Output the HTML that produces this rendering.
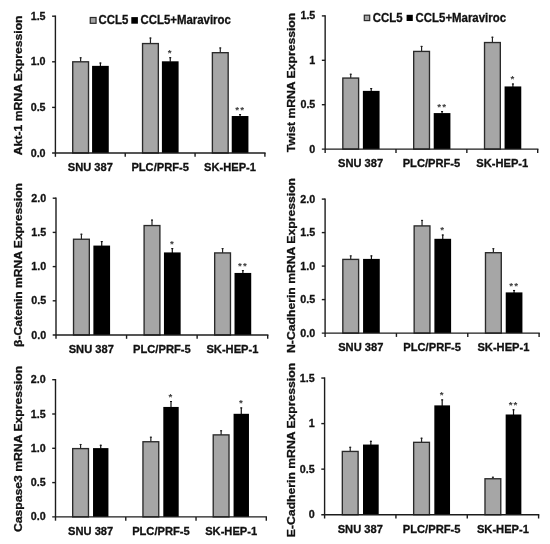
<!DOCTYPE html>
<html><head><meta charset="utf-8"><title>Figure</title>
<style>html,body{margin:0;padding:0;background:#fff}text{stroke:#111;stroke-width:.3px}text.st{stroke:none}svg{filter:blur(0.4px)}</style></head>
<body>
<svg width="550" height="544" viewBox="0 0 550 544" style="display:block">
<rect width="550" height="544" fill="#fff"/>
<g font-family='"Liberation Sans", sans-serif' font-weight="bold" fill="#111">
<line x1="80.62" x2="80.62" y1="61.80" y2="57.30" stroke="#222" stroke-width="1.2"/>
<line x1="79.62" x2="81.62" y1="57.80" y2="57.80" stroke="#222" stroke-width="1.1"/>
<line x1="100.42" x2="100.42" y1="66.36" y2="62.56" stroke="#111" stroke-width="1.2"/>
<line x1="99.42" x2="101.42" y1="63.06" y2="63.06" stroke="#111" stroke-width="1.1"/>
<rect x="72.72" y="61.80" width="15.80" height="91.20" fill="#a6a6a6" stroke="#2a2a2a" stroke-width="1.35"/>
<rect x="92.07" y="65.86" width="16.70" height="87.14" fill="#000"/>
<text transform="translate(90.32,170.50) scale(0.97,1)" font-size="11.5" text-anchor="middle">SNU 387</text>
<line x1="150.45" x2="150.45" y1="43.56" y2="37.56" stroke="#222" stroke-width="1.2"/>
<line x1="149.45" x2="151.45" y1="38.06" y2="38.06" stroke="#222" stroke-width="1.1"/>
<line x1="170.25" x2="170.25" y1="61.80" y2="57.20" stroke="#111" stroke-width="1.2"/>
<line x1="169.25" x2="171.25" y1="57.70" y2="57.70" stroke="#111" stroke-width="1.1"/>
<rect x="142.55" y="43.56" width="15.80" height="109.44" fill="#a6a6a6" stroke="#2a2a2a" stroke-width="1.35"/>
<rect x="161.90" y="61.30" width="16.70" height="91.70" fill="#000"/>
<text transform="translate(170.35,56.00) scale(1.0,1)" font-size="9.8" text-anchor="middle" class="st" fill="#3a3a3a" letter-spacing="1.15">*</text>
<text transform="translate(160.15,170.50) scale(0.97,1)" font-size="11.5" text-anchor="middle">PLC/PRF-5</text>
<line x1="220.28" x2="220.28" y1="52.68" y2="47.48" stroke="#222" stroke-width="1.2"/>
<line x1="219.28" x2="221.28" y1="47.98" y2="47.98" stroke="#222" stroke-width="1.1"/>
<line x1="240.08" x2="240.08" y1="116.52" y2="114.12" stroke="#111" stroke-width="1.2"/>
<line x1="239.08" x2="241.08" y1="114.62" y2="114.62" stroke="#111" stroke-width="1.1"/>
<rect x="212.38" y="52.68" width="15.80" height="100.32" fill="#a6a6a6" stroke="#2a2a2a" stroke-width="1.35"/>
<rect x="231.73" y="116.02" width="16.70" height="36.98" fill="#000"/>
<text transform="translate(240.18,112.92) scale(1.0,1)" font-size="9.8" text-anchor="middle" class="st" fill="#3a3a3a" letter-spacing="1.15">**</text>
<text transform="translate(229.98,170.50) scale(0.97,1)" font-size="11.5" text-anchor="middle">SK-HEP-1</text>
<line x1="55.40" x2="55.40" y1="15.50" y2="156.80" stroke="#1c1c1c" stroke-width="1.4"/>
<line x1="52.10" x2="265.60" y1="153.00" y2="153.00" stroke="#1c1c1c" stroke-width="1.4"/>
<text transform="translate(45.60,156.55) scale(0.95,1)" font-size="11.3" text-anchor="end">0.0</text>
<line x1="52.10" x2="55.40" y1="107.40" y2="107.40" stroke="#1c1c1c" stroke-width="1.4"/>
<text transform="translate(45.60,110.95) scale(0.95,1)" font-size="11.3" text-anchor="end">0.5</text>
<line x1="52.10" x2="55.40" y1="61.80" y2="61.80" stroke="#1c1c1c" stroke-width="1.4"/>
<text transform="translate(45.60,65.35) scale(0.95,1)" font-size="11.3" text-anchor="end">1.0</text>
<line x1="52.10" x2="55.40" y1="16.20" y2="16.20" stroke="#1c1c1c" stroke-width="1.4"/>
<text transform="translate(45.60,19.75) scale(0.95,1)" font-size="11.3" text-anchor="end">1.5</text>
<line x1="125.23" x2="125.23" y1="153.00" y2="156.80" stroke="#1c1c1c" stroke-width="1.4"/>
<line x1="195.07" x2="195.07" y1="153.00" y2="156.80" stroke="#1c1c1c" stroke-width="1.4"/>
<line x1="264.90" x2="264.90" y1="153.00" y2="156.80" stroke="#1c1c1c" stroke-width="1.4"/>
<text transform="translate(22.10,85.30) rotate(-90) scale(1.052,1)" font-size="11.6" text-anchor="middle">Akt-1 mRNA Expression</text>
<rect x="90.25" y="17.50" width="5.80" height="5.80" fill="#a6a6a6" stroke="#2a2a2a" stroke-width="1.2"/>
<text transform="translate(98.55,24.30) scale(0.952,1)" font-size="12" text-anchor="start">CCL5</text>
<rect x="131.30" y="17.10" width="6.60" height="6.60" fill="#000"/>
<text transform="translate(140.45,24.30) scale(0.952,1)" font-size="12" text-anchor="start">CCL5+Maraviroc</text>
<line x1="350.72" x2="350.72" y1="78.06" y2="73.76" stroke="#222" stroke-width="1.2"/>
<line x1="349.72" x2="351.72" y1="74.26" y2="74.26" stroke="#222" stroke-width="1.1"/>
<line x1="371.22" x2="371.22" y1="91.38" y2="88.08" stroke="#111" stroke-width="1.2"/>
<line x1="370.22" x2="372.22" y1="88.58" y2="88.58" stroke="#111" stroke-width="1.1"/>
<rect x="342.82" y="78.06" width="15.80" height="71.04" fill="#a6a6a6" stroke="#2a2a2a" stroke-width="1.35"/>
<rect x="362.87" y="90.88" width="16.70" height="58.22" fill="#000"/>
<text transform="translate(360.57,166.80) scale(0.97,1)" font-size="11.5" text-anchor="middle">SNU 387</text>
<line x1="421.57" x2="421.57" y1="51.42" y2="45.92" stroke="#222" stroke-width="1.2"/>
<line x1="420.57" x2="422.57" y1="46.42" y2="46.42" stroke="#222" stroke-width="1.1"/>
<line x1="442.07" x2="442.07" y1="113.58" y2="111.08" stroke="#111" stroke-width="1.2"/>
<line x1="441.07" x2="443.07" y1="111.58" y2="111.58" stroke="#111" stroke-width="1.1"/>
<rect x="413.68" y="51.42" width="15.80" height="97.68" fill="#a6a6a6" stroke="#2a2a2a" stroke-width="1.35"/>
<rect x="433.72" y="113.08" width="16.70" height="36.02" fill="#000"/>
<text transform="translate(442.18,109.88) scale(1.0,1)" font-size="9.8" text-anchor="middle" class="st" fill="#3a3a3a" letter-spacing="1.15">**</text>
<text transform="translate(431.43,166.80) scale(0.97,1)" font-size="11.5" text-anchor="middle">PLC/PRF-5</text>
<line x1="492.43" x2="492.43" y1="42.54" y2="36.74" stroke="#222" stroke-width="1.2"/>
<line x1="491.43" x2="493.43" y1="37.24" y2="37.24" stroke="#222" stroke-width="1.1"/>
<line x1="512.92" x2="512.92" y1="86.94" y2="83.54" stroke="#111" stroke-width="1.2"/>
<line x1="511.92" x2="513.92" y1="84.04" y2="84.04" stroke="#111" stroke-width="1.1"/>
<rect x="484.53" y="42.54" width="15.80" height="106.56" fill="#a6a6a6" stroke="#2a2a2a" stroke-width="1.35"/>
<rect x="504.57" y="86.44" width="16.70" height="62.66" fill="#000"/>
<text transform="translate(513.02,82.34) scale(1.0,1)" font-size="9.8" text-anchor="middle" class="st" fill="#3a3a3a" letter-spacing="1.15">*</text>
<text transform="translate(502.28,166.80) scale(0.97,1)" font-size="11.5" text-anchor="middle">SK-HEP-1</text>
<line x1="325.15" x2="325.15" y1="15.20" y2="152.90" stroke="#1c1c1c" stroke-width="1.4"/>
<line x1="321.85" x2="538.40" y1="149.10" y2="149.10" stroke="#1c1c1c" stroke-width="1.4"/>
<text transform="translate(315.35,152.65) scale(0.95,1)" font-size="11.3" text-anchor="end">0</text>
<line x1="321.85" x2="325.15" y1="104.70" y2="104.70" stroke="#1c1c1c" stroke-width="1.4"/>
<text transform="translate(315.35,108.25) scale(0.95,1)" font-size="11.3" text-anchor="end">0.5</text>
<line x1="321.85" x2="325.15" y1="60.30" y2="60.30" stroke="#1c1c1c" stroke-width="1.4"/>
<text transform="translate(315.35,63.85) scale(0.95,1)" font-size="11.3" text-anchor="end">1</text>
<line x1="321.85" x2="325.15" y1="15.90" y2="15.90" stroke="#1c1c1c" stroke-width="1.4"/>
<text transform="translate(315.35,19.45) scale(0.95,1)" font-size="11.3" text-anchor="end">1.5</text>
<line x1="396.00" x2="396.00" y1="149.10" y2="152.90" stroke="#1c1c1c" stroke-width="1.4"/>
<line x1="466.85" x2="466.85" y1="149.10" y2="152.90" stroke="#1c1c1c" stroke-width="1.4"/>
<line x1="537.70" x2="537.70" y1="149.10" y2="152.90" stroke="#1c1c1c" stroke-width="1.4"/>
<text transform="translate(294.70,82.50) rotate(-90) scale(1.052,1)" font-size="11.6" text-anchor="middle">Twist mRNA Expression</text>
<rect x="364.30" y="15.20" width="5.40" height="5.40" fill="#a6a6a6" stroke="#2a2a2a" stroke-width="1.2"/>
<text transform="translate(372.70,21.90) scale(0.952,1)" font-size="12" text-anchor="start">CCL5</text>
<rect x="406.60" y="14.80" width="6.20" height="6.20" fill="#000"/>
<text transform="translate(415.60,21.90) scale(0.952,1)" font-size="12" text-anchor="start">CCL5+Maraviroc</text>
<line x1="81.43" x2="81.43" y1="239.24" y2="233.74" stroke="#222" stroke-width="1.2"/>
<line x1="80.43" x2="82.43" y1="234.24" y2="234.24" stroke="#222" stroke-width="1.1"/>
<line x1="101.73" x2="101.73" y1="246.08" y2="241.08" stroke="#111" stroke-width="1.2"/>
<line x1="100.73" x2="102.73" y1="241.58" y2="241.58" stroke="#111" stroke-width="1.1"/>
<rect x="73.53" y="239.24" width="15.80" height="95.76" fill="#a6a6a6" stroke="#2a2a2a" stroke-width="1.35"/>
<rect x="93.38" y="245.58" width="16.70" height="89.42" fill="#000"/>
<text transform="translate(91.28,353.40) scale(0.97,1)" font-size="11.5" text-anchor="middle">SNU 387</text>
<line x1="152.00" x2="152.00" y1="225.56" y2="219.66" stroke="#222" stroke-width="1.2"/>
<line x1="151.00" x2="153.00" y1="220.16" y2="220.16" stroke="#222" stroke-width="1.1"/>
<line x1="172.30" x2="172.30" y1="252.92" y2="248.12" stroke="#111" stroke-width="1.2"/>
<line x1="171.30" x2="173.30" y1="248.62" y2="248.62" stroke="#111" stroke-width="1.1"/>
<rect x="144.10" y="225.56" width="15.80" height="109.44" fill="#a6a6a6" stroke="#2a2a2a" stroke-width="1.35"/>
<rect x="163.95" y="252.42" width="16.70" height="82.58" fill="#000"/>
<text transform="translate(172.40,246.92) scale(1.0,1)" font-size="9.8" text-anchor="middle" class="st" fill="#3a3a3a" letter-spacing="1.15">*</text>
<text transform="translate(161.85,353.40) scale(0.97,1)" font-size="11.5" text-anchor="middle">PLC/PRF-5</text>
<line x1="222.57" x2="222.57" y1="252.92" y2="248.12" stroke="#222" stroke-width="1.2"/>
<line x1="221.57" x2="223.57" y1="248.62" y2="248.62" stroke="#222" stroke-width="1.1"/>
<line x1="242.87" x2="242.87" y1="273.44" y2="270.14" stroke="#111" stroke-width="1.2"/>
<line x1="241.87" x2="243.87" y1="270.64" y2="270.64" stroke="#111" stroke-width="1.1"/>
<rect x="214.67" y="252.92" width="15.80" height="82.08" fill="#a6a6a6" stroke="#2a2a2a" stroke-width="1.35"/>
<rect x="234.52" y="272.94" width="16.70" height="62.06" fill="#000"/>
<text transform="translate(242.97,268.94) scale(1.0,1)" font-size="9.8" text-anchor="middle" class="st" fill="#3a3a3a" letter-spacing="1.15">**</text>
<text transform="translate(232.42,353.40) scale(0.97,1)" font-size="11.5" text-anchor="middle">SK-HEP-1</text>
<line x1="56.00" x2="56.00" y1="197.50" y2="338.80" stroke="#1c1c1c" stroke-width="1.4"/>
<line x1="52.70" x2="268.40" y1="335.00" y2="335.00" stroke="#1c1c1c" stroke-width="1.4"/>
<text transform="translate(46.20,338.55) scale(0.95,1)" font-size="11.3" text-anchor="end">0.0</text>
<line x1="52.70" x2="56.00" y1="300.80" y2="300.80" stroke="#1c1c1c" stroke-width="1.4"/>
<text transform="translate(46.20,304.35) scale(0.95,1)" font-size="11.3" text-anchor="end">0.5</text>
<line x1="52.70" x2="56.00" y1="266.60" y2="266.60" stroke="#1c1c1c" stroke-width="1.4"/>
<text transform="translate(46.20,270.15) scale(0.95,1)" font-size="11.3" text-anchor="end">1.0</text>
<line x1="52.70" x2="56.00" y1="232.40" y2="232.40" stroke="#1c1c1c" stroke-width="1.4"/>
<text transform="translate(46.20,235.95) scale(0.95,1)" font-size="11.3" text-anchor="end">1.5</text>
<line x1="52.70" x2="56.00" y1="198.20" y2="198.20" stroke="#1c1c1c" stroke-width="1.4"/>
<text transform="translate(46.20,201.75) scale(0.95,1)" font-size="11.3" text-anchor="end">2.0</text>
<line x1="126.57" x2="126.57" y1="335.00" y2="338.80" stroke="#1c1c1c" stroke-width="1.4"/>
<line x1="197.13" x2="197.13" y1="335.00" y2="338.80" stroke="#1c1c1c" stroke-width="1.4"/>
<line x1="267.70" x2="267.70" y1="335.00" y2="338.80" stroke="#1c1c1c" stroke-width="1.4"/>
<text transform="translate(22.20,265.00) rotate(-90) scale(1.042,1)" font-size="11.6" text-anchor="middle">β-Catenin mRNA Expression</text>
<line x1="350.72" x2="350.72" y1="259.40" y2="255.40" stroke="#222" stroke-width="1.2"/>
<line x1="349.72" x2="351.72" y1="255.90" y2="255.90" stroke="#222" stroke-width="1.1"/>
<line x1="371.42" x2="371.42" y1="259.40" y2="255.40" stroke="#111" stroke-width="1.2"/>
<line x1="370.42" x2="372.42" y1="255.90" y2="255.90" stroke="#111" stroke-width="1.1"/>
<rect x="342.82" y="259.40" width="15.80" height="73.70" fill="#a6a6a6" stroke="#2a2a2a" stroke-width="1.35"/>
<rect x="363.07" y="258.90" width="16.70" height="74.20" fill="#000"/>
<text transform="translate(360.77,351.40) scale(0.97,1)" font-size="11.5" text-anchor="middle">SNU 387</text>
<line x1="422.05" x2="422.05" y1="225.90" y2="219.90" stroke="#222" stroke-width="1.2"/>
<line x1="421.05" x2="423.05" y1="220.40" y2="220.40" stroke="#222" stroke-width="1.1"/>
<line x1="442.75" x2="442.75" y1="239.30" y2="234.55" stroke="#111" stroke-width="1.2"/>
<line x1="441.75" x2="443.75" y1="235.05" y2="235.05" stroke="#111" stroke-width="1.1"/>
<rect x="414.15" y="225.90" width="15.80" height="107.20" fill="#a6a6a6" stroke="#2a2a2a" stroke-width="1.35"/>
<rect x="434.40" y="238.80" width="16.70" height="94.30" fill="#000"/>
<text transform="translate(442.85,233.35) scale(1.0,1)" font-size="9.8" text-anchor="middle" class="st" fill="#3a3a3a" letter-spacing="1.15">*</text>
<text transform="translate(432.10,351.40) scale(0.97,1)" font-size="11.5" text-anchor="middle">PLC/PRF-5</text>
<line x1="493.38" x2="493.38" y1="252.70" y2="248.20" stroke="#222" stroke-width="1.2"/>
<line x1="492.38" x2="494.38" y1="248.70" y2="248.70" stroke="#222" stroke-width="1.1"/>
<line x1="514.08" x2="514.08" y1="292.90" y2="290.00" stroke="#111" stroke-width="1.2"/>
<line x1="513.08" x2="515.08" y1="290.50" y2="290.50" stroke="#111" stroke-width="1.1"/>
<rect x="485.48" y="252.70" width="15.80" height="80.40" fill="#a6a6a6" stroke="#2a2a2a" stroke-width="1.35"/>
<rect x="505.73" y="292.40" width="16.70" height="40.70" fill="#000"/>
<text transform="translate(514.18,288.80) scale(1.0,1)" font-size="9.8" text-anchor="middle" class="st" fill="#3a3a3a" letter-spacing="1.15">**</text>
<text transform="translate(503.43,351.40) scale(0.97,1)" font-size="11.5" text-anchor="middle">SK-HEP-1</text>
<line x1="325.10" x2="325.10" y1="198.40" y2="336.90" stroke="#1c1c1c" stroke-width="1.4"/>
<line x1="321.80" x2="539.80" y1="333.10" y2="333.10" stroke="#1c1c1c" stroke-width="1.4"/>
<text transform="translate(315.30,336.65) scale(0.95,1)" font-size="11.3" text-anchor="end">0.0</text>
<line x1="321.80" x2="325.10" y1="299.60" y2="299.60" stroke="#1c1c1c" stroke-width="1.4"/>
<text transform="translate(315.30,303.15) scale(0.95,1)" font-size="11.3" text-anchor="end">0.5</text>
<line x1="321.80" x2="325.10" y1="266.10" y2="266.10" stroke="#1c1c1c" stroke-width="1.4"/>
<text transform="translate(315.30,269.65) scale(0.95,1)" font-size="11.3" text-anchor="end">1.0</text>
<line x1="321.80" x2="325.10" y1="232.60" y2="232.60" stroke="#1c1c1c" stroke-width="1.4"/>
<text transform="translate(315.30,236.15) scale(0.95,1)" font-size="11.3" text-anchor="end">1.5</text>
<line x1="321.80" x2="325.10" y1="199.10" y2="199.10" stroke="#1c1c1c" stroke-width="1.4"/>
<text transform="translate(315.30,202.65) scale(0.95,1)" font-size="11.3" text-anchor="end">2.0</text>
<line x1="396.43" x2="396.43" y1="333.10" y2="336.90" stroke="#1c1c1c" stroke-width="1.4"/>
<line x1="467.77" x2="467.77" y1="333.10" y2="336.90" stroke="#1c1c1c" stroke-width="1.4"/>
<line x1="539.10" x2="539.10" y1="333.10" y2="336.90" stroke="#1c1c1c" stroke-width="1.4"/>
<text transform="translate(294.90,265.45) rotate(-90) scale(1.052,1)" font-size="11.6" text-anchor="middle">N-Cadherin mRNA Expression</text>
<line x1="80.58" x2="80.58" y1="448.60" y2="444.00" stroke="#222" stroke-width="1.2"/>
<line x1="79.58" x2="81.58" y1="444.50" y2="444.50" stroke="#222" stroke-width="1.1"/>
<line x1="100.73" x2="100.73" y1="448.60" y2="444.80" stroke="#111" stroke-width="1.2"/>
<line x1="99.73" x2="101.73" y1="445.30" y2="445.30" stroke="#111" stroke-width="1.1"/>
<rect x="72.68" y="448.60" width="15.80" height="68.30" fill="#a6a6a6" stroke="#2a2a2a" stroke-width="1.35"/>
<rect x="93.03" y="448.10" width="15.40" height="68.80" fill="#000"/>
<text transform="translate(90.63,535.20) scale(0.97,1)" font-size="11.5" text-anchor="middle">SNU 387</text>
<line x1="150.85" x2="150.85" y1="441.74" y2="436.74" stroke="#222" stroke-width="1.2"/>
<line x1="149.85" x2="151.85" y1="437.24" y2="437.24" stroke="#222" stroke-width="1.1"/>
<line x1="171.00" x2="171.00" y1="407.44" y2="400.94" stroke="#111" stroke-width="1.2"/>
<line x1="170.00" x2="172.00" y1="401.44" y2="401.44" stroke="#111" stroke-width="1.1"/>
<rect x="142.95" y="441.74" width="15.80" height="75.16" fill="#a6a6a6" stroke="#2a2a2a" stroke-width="1.35"/>
<rect x="163.30" y="406.94" width="15.40" height="109.96" fill="#000"/>
<text transform="translate(171.10,399.74) scale(1.0,1)" font-size="9.8" text-anchor="middle" class="st" fill="#3a3a3a" letter-spacing="1.15">*</text>
<text transform="translate(160.90,535.20) scale(0.97,1)" font-size="11.5" text-anchor="middle">PLC/PRF-5</text>
<line x1="221.12" x2="221.12" y1="434.88" y2="430.28" stroke="#222" stroke-width="1.2"/>
<line x1="220.12" x2="222.12" y1="430.78" y2="430.78" stroke="#222" stroke-width="1.1"/>
<line x1="241.27" x2="241.27" y1="414.30" y2="407.40" stroke="#111" stroke-width="1.2"/>
<line x1="240.27" x2="242.27" y1="407.90" y2="407.90" stroke="#111" stroke-width="1.1"/>
<rect x="213.22" y="434.88" width="15.80" height="82.02" fill="#a6a6a6" stroke="#2a2a2a" stroke-width="1.35"/>
<rect x="233.57" y="413.80" width="15.40" height="103.10" fill="#000"/>
<text transform="translate(241.37,406.20) scale(1.0,1)" font-size="9.8" text-anchor="middle" class="st" fill="#3a3a3a" letter-spacing="1.15">*</text>
<text transform="translate(231.17,535.20) scale(0.97,1)" font-size="11.5" text-anchor="middle">SK-HEP-1</text>
<line x1="55.50" x2="55.50" y1="379.00" y2="520.70" stroke="#1c1c1c" stroke-width="1.4"/>
<line x1="52.20" x2="267.00" y1="516.90" y2="516.90" stroke="#1c1c1c" stroke-width="1.4"/>
<text transform="translate(45.70,520.45) scale(0.95,1)" font-size="11.3" text-anchor="end">0.0</text>
<line x1="52.20" x2="55.50" y1="482.60" y2="482.60" stroke="#1c1c1c" stroke-width="1.4"/>
<text transform="translate(45.70,486.15) scale(0.95,1)" font-size="11.3" text-anchor="end">0.5</text>
<line x1="52.20" x2="55.50" y1="448.30" y2="448.30" stroke="#1c1c1c" stroke-width="1.4"/>
<text transform="translate(45.70,451.85) scale(0.95,1)" font-size="11.3" text-anchor="end">1.0</text>
<line x1="52.20" x2="55.50" y1="414.00" y2="414.00" stroke="#1c1c1c" stroke-width="1.4"/>
<text transform="translate(45.70,417.55) scale(0.95,1)" font-size="11.3" text-anchor="end">1.5</text>
<line x1="52.20" x2="55.50" y1="379.70" y2="379.70" stroke="#1c1c1c" stroke-width="1.4"/>
<text transform="translate(45.70,383.25) scale(0.95,1)" font-size="11.3" text-anchor="end">2.0</text>
<line x1="125.77" x2="125.77" y1="516.90" y2="520.70" stroke="#1c1c1c" stroke-width="1.4"/>
<line x1="196.03" x2="196.03" y1="516.90" y2="520.70" stroke="#1c1c1c" stroke-width="1.4"/>
<line x1="266.30" x2="266.30" y1="516.90" y2="520.70" stroke="#1c1c1c" stroke-width="1.4"/>
<text transform="translate(21.90,449.00) rotate(-90) scale(1.052,1)" font-size="11.6" text-anchor="middle">Caspase3 mRNA Expression</text>
<line x1="350.22" x2="350.22" y1="451.43" y2="446.83" stroke="#222" stroke-width="1.2"/>
<line x1="349.22" x2="351.22" y1="447.33" y2="447.33" stroke="#222" stroke-width="1.1"/>
<line x1="370.85" x2="370.85" y1="445.05" y2="440.85" stroke="#111" stroke-width="1.2"/>
<line x1="369.85" x2="371.85" y1="441.35" y2="441.35" stroke="#111" stroke-width="1.1"/>
<rect x="342.32" y="451.43" width="15.80" height="63.27" fill="#a6a6a6" stroke="#2a2a2a" stroke-width="1.35"/>
<rect x="363.00" y="444.55" width="15.70" height="70.15" fill="#000"/>
<text transform="translate(360.27,533.40) scale(0.97,1)" font-size="11.5" text-anchor="middle">SNU 387</text>
<line x1="421.55" x2="421.55" y1="442.32" y2="437.72" stroke="#222" stroke-width="1.2"/>
<line x1="420.55" x2="422.55" y1="438.22" y2="438.22" stroke="#222" stroke-width="1.1"/>
<line x1="442.18" x2="442.18" y1="405.88" y2="399.38" stroke="#111" stroke-width="1.2"/>
<line x1="441.18" x2="443.18" y1="399.88" y2="399.88" stroke="#111" stroke-width="1.1"/>
<rect x="413.65" y="442.32" width="15.80" height="72.38" fill="#a6a6a6" stroke="#2a2a2a" stroke-width="1.35"/>
<rect x="434.33" y="405.38" width="15.70" height="109.32" fill="#000"/>
<text transform="translate(442.28,398.18) scale(1.0,1)" font-size="9.8" text-anchor="middle" class="st" fill="#3a3a3a" letter-spacing="1.15">*</text>
<text transform="translate(431.60,533.40) scale(0.97,1)" font-size="11.5" text-anchor="middle">PLC/PRF-5</text>
<line x1="492.88" x2="492.88" y1="478.76" y2="476.76" stroke="#222" stroke-width="1.2"/>
<line x1="491.88" x2="493.88" y1="477.26" y2="477.26" stroke="#222" stroke-width="1.1"/>
<line x1="513.51" x2="513.51" y1="414.99" y2="409.29" stroke="#111" stroke-width="1.2"/>
<line x1="512.51" x2="514.51" y1="409.79" y2="409.79" stroke="#111" stroke-width="1.1"/>
<rect x="484.98" y="478.76" width="15.80" height="35.94" fill="#a6a6a6" stroke="#2a2a2a" stroke-width="1.35"/>
<rect x="505.66" y="414.49" width="15.70" height="100.21" fill="#000"/>
<text transform="translate(513.61,408.09) scale(1.0,1)" font-size="9.8" text-anchor="middle" class="st" fill="#3a3a3a" letter-spacing="1.15">**</text>
<text transform="translate(502.93,533.40) scale(0.97,1)" font-size="11.5" text-anchor="middle">SK-HEP-1</text>
<line x1="324.60" x2="324.60" y1="377.35" y2="518.50" stroke="#1c1c1c" stroke-width="1.4"/>
<line x1="321.30" x2="539.30" y1="514.70" y2="514.70" stroke="#1c1c1c" stroke-width="1.4"/>
<text transform="translate(314.80,518.25) scale(0.95,1)" font-size="11.3" text-anchor="end">0</text>
<line x1="321.30" x2="324.60" y1="469.15" y2="469.15" stroke="#1c1c1c" stroke-width="1.4"/>
<text transform="translate(314.80,472.70) scale(0.95,1)" font-size="11.3" text-anchor="end">0.5</text>
<line x1="321.30" x2="324.60" y1="423.60" y2="423.60" stroke="#1c1c1c" stroke-width="1.4"/>
<text transform="translate(314.80,427.15) scale(0.95,1)" font-size="11.3" text-anchor="end">1</text>
<line x1="321.30" x2="324.60" y1="378.05" y2="378.05" stroke="#1c1c1c" stroke-width="1.4"/>
<text transform="translate(314.80,381.60) scale(0.95,1)" font-size="11.3" text-anchor="end">1.5</text>
<line x1="395.93" x2="395.93" y1="514.70" y2="518.50" stroke="#1c1c1c" stroke-width="1.4"/>
<line x1="467.27" x2="467.27" y1="514.70" y2="518.50" stroke="#1c1c1c" stroke-width="1.4"/>
<line x1="538.60" x2="538.60" y1="514.70" y2="518.50" stroke="#1c1c1c" stroke-width="1.4"/>
<text transform="translate(295.20,450.00) rotate(-90) scale(1.052,1)" font-size="11.6" text-anchor="middle">E-Cadherin mRNA Expression</text>
</g></svg>
</body></html>
